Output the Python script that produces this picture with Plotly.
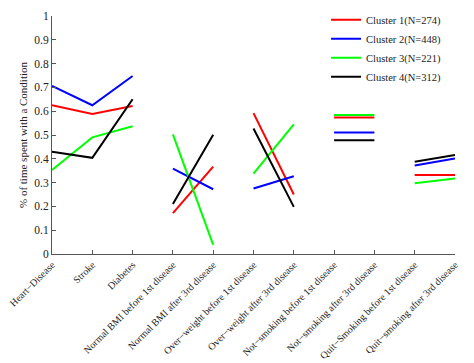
import plotly.graph_objects as go

categories = ["Heart\u2212Disease", "Stroke", "Diabetes",
              "Normal BMI before 1st disease", "Normal BMI after 3rd disease",
              "Over\u2212weight before 1st disease", "Over\u2212weight after 3rd disease",
              "Not\u2212smoking before 1st disease", "Not\u2212smoking after 3rd disease",
              "Quit\u2212Smoking before 1st disease", "Quit\u2212smoking after 3rd disease"]
groups = [[0, 1, 2], [3, 4], [5, 6], [7, 8], [9, 10]]

cluster_names = ["Cluster 1(N=274)", "Cluster 2(N=448)", "Cluster 3(N=221)", "Cluster 4(N=312)"]
cluster1 = [0.625, 0.588, 0.622, 0.172, 0.367, 0.592, 0.250, 0.574, 0.574, 0.332, 0.332]
cluster2 = [0.706, 0.625, 0.748, 0.359, 0.272, 0.275, 0.327, 0.511, 0.511, 0.372, 0.401]
cluster3 = [0.353, 0.490, 0.537, 0.503, 0.038, 0.338, 0.545, 0.584, 0.584, 0.297, 0.317]
cluster4 = [0.430, 0.404, 0.650, 0.210, 0.501, 0.527, 0.198, 0.478, 0.478, 0.388, 0.416]
colors = ["#ff0000", "#0000ff", "#00ff00", "#000000"]

fig = go.Figure()
for name, vals, col in zip(cluster_names, [cluster1, cluster2, cluster3, cluster4], colors):
    xs, ys = [], []
    for g in groups:
        for i in g:
            xs.append(i)
            ys.append(vals[i])
        xs.append(None)
        ys.append(None)
    fig.add_trace(go.Scatter(x=xs, y=ys, mode="lines", name=name,
                             line=dict(color=col, width=2), connectgaps=False))

font = "Liberation Serif"
fig.update_layout(
    width=474, height=363,
    margin=dict(l=44, r=27, t=8, b=117, autoexpand=False),
    plot_bgcolor="white", paper_bgcolor="white",
    font=dict(family=font, size=10, color="#222"),
    legend=dict(x=0.68, y=1.045, xanchor="left", yanchor="top",
                bgcolor="rgba(255,255,255,0)", font=dict(size=10.5),
                tracegroupgap=0, itemwidth=30),
    showlegend=True,
)
fig.update_xaxes(range=[0, 10], tickvals=list(range(11)), ticktext=categories,
                 tickangle=-45, ticks="inside", ticklen=4, tickcolor="#555",
                 ticklabeloverflow="allow", automargin=False,
                 showline=True, linecolor="#555", linewidth=1, showgrid=False,
                 zeroline=False, tickfont=dict(size=10))
fig.update_yaxes(range=[0, 1], tickvals=[i / 10 for i in range(11)],
                 ticktext=["0", "0.1", "0.2", "0.3", "0.4", "0.5", "0.6", "0.7", "0.8", "0.9", "1"],
                 ticks="inside", ticklen=4, tickcolor="#555", automargin=False,
                 showline=True, linecolor="#555", linewidth=1, showgrid=False,
                 zeroline=False, tickfont=dict(size=11.5),
                 title=dict(text="% of time spent with a Condition", font=dict(size=11), standoff=4))

fig.write_html("out.html")
